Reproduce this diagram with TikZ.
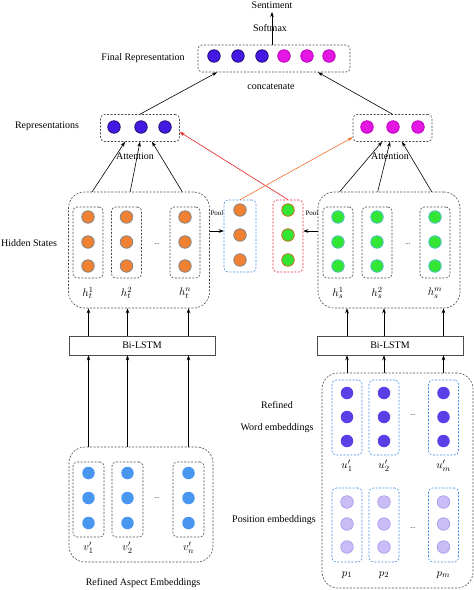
\documentclass[tikz,border=0pt]{standalone}
\usepackage{fontspec}
\setmainfont{Liberation Serif}
\usetikzlibrary{calc,arrows.meta}
\definecolor{repblue}{RGB}{66,26,228}
\definecolor{repblueD}{RGB}{40,14,120}
\definecolor{repmag}{RGB}{228,22,228}
\definecolor{repmagD}{RGB}{190,0,190}
\definecolor{horange}{RGB}{240,128,50}
\definecolor{hgray}{RGB}{135,135,135}
\definecolor{hgreen}{RGB}{52,230,52}
\definecolor{hcyan}{RGB}{80,190,200}
\definecolor{hbrown}{RGB}{190,110,30}
\definecolor{aspblue}{RGB}{72,150,240}
\definecolor{wordblue}{RGB}{92,62,230}
\definecolor{poslav}{RGB}{202,188,246}
\definecolor{poslavD}{RGB}{178,162,236}
\definecolor{poolblue}{RGB}{70,140,230}
\definecolor{poolred}{RGB}{230,40,60}
\definecolor{crossred}{RGB}{232,30,30}
\definecolor{crossorange}{RGB}{240,110,40}
\begin{document}
\begin{tikzpicture}[x=1pt,y=-1pt,>={Stealth[length=5pt,width=3.6pt]},
    font=\fontsize{10}{12}\selectfont,
    dbox/.style={draw=black!70,dash pattern=on 2pt off 1.5pt,line width=0.6pt,
      rounded corners=4pt,inner sep=0pt},
    bigbox/.style={dbox,rounded corners=16pt},
    dot/.style={circle,inner sep=0pt,minimum size=12.5pt,line width=0.8pt},
    lstm/.style={draw=black!70,line width=0.6pt,minimum width=146,
      minimum height=19,inner sep=0pt},
    arr/.style={->,line width=0.6pt},
    mlbl/.style={font=\fontsize{11}{13}\selectfont,inner sep=0.5pt},
    small/.style={font=\fontsize{7}{8}\selectfont,inner sep=0.5pt},
  ]
  \useasboundingbox (0,0) rectangle (474,590);
  % output
  \node (sent) at (272,5) {Sentiment};
  \node[dbox,minimum width=152,minimum height=27] (final) at (274,58.5) {};
  \draw[arr] (final.north -| sent) -- (sent.south);
  \node (soft) at (270,28) {Softmax};
  \node (finlbl) at (143,58) {Final Representation};
  \node (concat) at (271,87) {concatenate};
  \foreach \x [count=\i] in {214,238,262}
    \node[dot,fill=repblue,draw=repblueD] (f\i) at (\x,56) {};
  \foreach \x [count=\i from 4] in {284,307,329}
    \node[dot,fill=repmag,draw=repmagD] (f\i) at (\x,56) {};
  % representations
  \node (replbl) at (47,126) {Representations};
  \node[dbox,minimum width=79,minimum height=27] (repL) at (140,128) {};
  \node[dbox,minimum width=79,minimum height=27] (repR) at (392.5,128) {};
  \foreach \x [count=\i] in {114,141,165}
    \node[dot,fill=repblue,draw=repblueD] (rL\i) at (\x,127) {};
  \foreach \x [count=\i] in {367,393,418}
    \node[dot,fill=repmag,draw=repmagD] (rR\i) at (\x,127) {};
  \draw[arr] (repL.north) -- ($(final.south)+(-57,0)$);
  \draw[arr] (repR.north) -- ($(final.south)+(44,0)$);
  \node (attL) at (135,156) {Attention};
  \node (attR) at (390,156) {Attention};
  % hidden states
  \node (hidlbl) at (29,243) {Hidden States};
  \node[bigbox,minimum width=141,minimum height=116] (hidL) at (139,250) {};
  \node[bigbox,minimum width=142,minimum height=116] (hidR) at (389,250) {};
  \foreach \x/\s [count=\i] in {88/1,126.5/2,185/n}{%
    \node[dbox,minimum width=30,minimum height=71] (cL\i) at (\x,242.5) {};
    \foreach \y [count=\j] in {217,242,266}
      \node[dot,fill=horange,draw=hgray] (hL\i\j) at (\x,\y) {};
    \node[mlbl] (hLl\i) at (\x,293) {$h_t^{\s}$};}
  \foreach \x/\s [count=\i] in {338/1,377/2,435/m}{%
    \node[dbox,minimum width=30,minimum height=71] (cR\i) at (\x,242.5) {};
    \foreach \y [count=\j] in {217,242,266}
      \node[dot,fill=hgreen,draw=hcyan] (hR\i\j) at (\x,\y) {};
    \node[mlbl] (hRl\i) at (\x,293) {$h_s^{\s}$};}
  \node[small] (dotsL) at (157,244) {...};
  \node[small] (dotsR) at (408,244) {...};
  \foreach \a/\b in {24/-15,62/0,114/12}
    \draw[arr] ($(hidL.north west)+(\a,0)$) -- ($(repL.south)+(\b,0)$);
  \foreach \a/\b in {22/-10.5,60/-2.5,114/9.5}
    \draw[arr] ($(hidR.north west)+(\a,0)$) -- ($(repR.south)+(\b,0)$);
  % pooling
  \node[dbox,draw=poolblue,minimum width=32,minimum height=72] (poolB) at (240,236) {};
  \node[dbox,draw=poolred,minimum width=30,minimum height=72] (poolR) at (288,236) {};
  \foreach \y [count=\j] in {210,235,260}{%
    \node[dot,fill=horange,draw=hgray] (pB\j) at (240,\y) {};
    \node[dot,fill=hgreen,draw=hbrown] (pR\j) at (288,\y) {};}
  \coordinate (pinL) at ($(poolB.west)+(0,-5)$);
  \coordinate (pinR) at ($(poolR.east)+(0,-5)$);
  \draw[arr] (hidL.east |- pinL) -- (pinL);
  \draw[arr] (hidR.west |- pinR) -- (pinR);
  \node[small] (poolLl) at (217,213) {Pool};
  \node[small] (poolRl) at (312,213) {Pool};
  \draw[arr,draw=crossred] (poolR.north) -- ($(repL.east)+(0,4)$);
  \draw[arr,draw=crossorange] (poolB.north) -- ($(repR.south west)+(0,-4.5)$);
  % Bi-LSTM
  \node[lstm] (lstmL) at (142,345.5) {Bi-LSTM};
  \node[lstm] (lstmR) at (390,345.5) {Bi-LSTM};
  % aspect embeddings
  \node[bigbox,minimum width=144,minimum height=115] (embL) at (141,504.5) {};
  \foreach \x/\s [count=\i] in {88.5/1,127.5/2,188.5/n}{%
    \node[dbox,minimum width=31,minimum height=75] (eL\i) at (\x,499.5) {};
    \foreach \y [count=\j] in {473,498,523}
      \node[dot,fill=aspblue] (aL\i\j) at (\x,\y) {};
    \node[mlbl] (eLl\i) at (\x,548) {$v'_{\s}$};
    \draw[arr] (embL.north -| eL\i) -- (lstmL.south -| eL\i);
    \draw[arr] (lstmL.north -| eL\i) -- (hidL.south -| eL\i);}
  \node[small] (dotsE) at (157,498) {...};
  \node (emblbl) at (143,583) {Refined Aspect Embeddings};
  % word and position embeddings
  \node[bigbox,minimum width=151,minimum height=215] (embR) at (397.5,480.5) {};
  \foreach \x/\s [count=\i] in {347/1,384/2,443.5/m}{%
    \node[dbox,draw=poolblue,minimum width=30,minimum height=75] (wR\i) at (\x,417.5) {};
    \node[dbox,draw=poolblue,minimum width=30,minimum height=74] (qR\i) at (\x,525) {};
    \foreach \y [count=\j] in {393,417,441}
      \node[dot,fill=wordblue] (uR\i\j) at (\x,\y) {};
    \foreach \y [count=\j] in {502,524,547}
      \node[dot,fill=poslav,draw=poslavD] (pp\i\j) at (\x,\y) {};
    \node[mlbl] (wRl\i) at (\x,466) {$u'_{\s}$};
    \node[mlbl] (qRl\i) at (\x,575) {$p_{\s}$};
    \draw[arr] (embR.north -| wR\i) -- (lstmR.south -| wR\i);
    \draw[arr] (lstmR.north -| wR\i) -- (hidR.south -| wR\i);}
  \node[small] (dotsW) at (413,415) {...};
  \node[small] (dotsP) at (413,528) {...};
  \node (reflbl) at (277,405) {Refined};
  \node (wordlbl) at (277,428) {Word embeddings};
  \node (poslbl) at (274,520) {Position embeddings};
\end{tikzpicture}
\end{document}
